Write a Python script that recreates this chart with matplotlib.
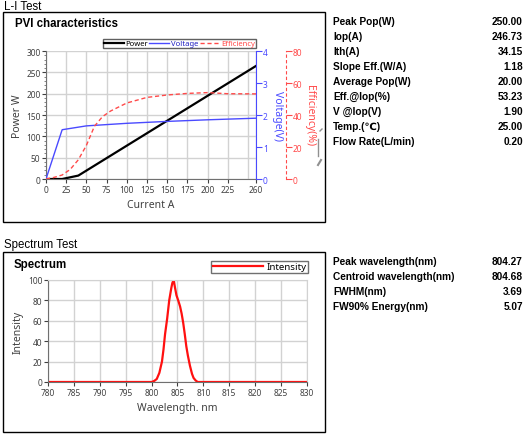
import matplotlib
matplotlib.use("Agg")
import matplotlib.pyplot as plt
from matplotlib.patches import Rectangle
from matplotlib.lines import Line2D

W, H = 526, 439

# --- L-I test data ---
current = [0, 20, 40, 260]
power = [0, 0, 8, 265]
volt_current = [0, 20, 50, 100, 150, 200, 260]
voltage = [0, 1.54, 1.66, 1.74, 1.80, 1.85, 1.90]
eff_current = [0, 10, 20, 30, 40, 50, 60, 70, 80, 100, 125, 150, 175, 200, 225, 260]
efficiency = [0, 1, 2.5, 6, 12, 21, 33, 39, 42.5, 47.5, 51, 52.5, 53.5, 54, 53.3, 53.2]

li_labels = ["Peak Pop(W)", "Iop(A)", "Ith(A)", "Slope Eff.(W/A)", "Average Pop(W)",
             "Eff.@Iop(%)", "V @Iop(V)", "Temp.(\u2103)", "Flow Rate(L/min)"]
li_values = ["250.00", "246.73", "34.15", "1.18", "20.00", "53.23", "1.90", "25.00", "0.20"]

# --- spectrum data ---
wavelength = [780, 800, 800.5, 801, 801.5, 802, 802.3, 802.6, 803.0, 803.4, 803.8, 804.0, 804.27,
              804.5, 804.8, 805.2, 805.5, 805.8, 806.1, 806.4, 806.7, 807.0, 807.4, 807.8,
              808.1, 808.5, 808.9, 830]
intensity = [0, 0, 1, 3, 9, 20, 32, 47, 62, 80, 92, 97, 100,
             93, 85, 79, 74, 67, 58, 47, 35, 26, 16, 8,
             4, 1.5, 0, 0]

sp_labels = ["Peak wavelength(nm)", "Centroid wavelength(nm)", "FWHM(nm)", "FW90% Energy(nm)"]
sp_values = ["804.27", "804.68", "3.69", "5.07"]


def fx(x):
    return x / W


def fy(y):
    return 1 - y / H


def ax_rect(x0, y0, x1, y1):
    return [fx(x0), fy(y1), (x1 - x0) / W, (y1 - y0) / H]


CHART_FONT = "Noto Sans"
TABLE_FONT = ["Liberation Sans", "DejaVu Sans", "Noto Sans CJK SC"]
GRID = "#d2d2d2"
TICK = "#404040"
BLUE = "#4a4aff"
RED = "#ff4a4a"

fig = plt.figure(figsize=(W / 100, H / 100), dpi=100)
fig.patch.set_facecolor("white")

# section headers and boxes
fig.text(fx(4), fy(7), "L-I Test", fontsize=8.3, family=TABLE_FONT, va="center", ha="left")
fig.text(fx(4), fy(245), "Spectrum Test", fontsize=8.3, family=TABLE_FONT, va="center", ha="left")
for (x0, y0, x1, y1) in [(3, 13, 325, 223), (3, 253, 325, 433)]:
    fig.add_artist(Rectangle((fx(x0), fy(y1)), (x1 - x0) / W, (y1 - y0) / H,
                             transform=fig.transFigure, fill=False, ec="black", lw=1))

fig.text(fx(15), fy(24), "PVI characteristics", fontsize=8.3, weight="bold",
         family=TABLE_FONT, va="center", ha="left")
fig.text(fx(14), fy(265), "Spectrum", fontsize=8.3, weight="bold",
         family=TABLE_FONT, va="center", ha="left")

# ---------- PVI chart ----------
ax = fig.add_axes(ax_rect(46, 52, 256, 180))
ax.plot(current, power, color="black", lw=1.6, label="Power", zorder=5)
ax.set_xlim(0, 260)
ax.set_ylim(0, 300)
ax.set_xticks([0, 25, 50, 75, 100, 125, 150, 175, 200, 225, 260])
ax.set_xticks([250], minor=True)
ax.set_yticks(range(0, 301, 50))
ax.set_yticks(range(0, 301, 10), minor=True)
ax.grid(True, which="major", color=GRID, lw=1)
ax.grid(True, which="minor", axis="x", color=GRID, lw=1)
for s in ["top", "right"]:
    ax.spines[s].set_visible(False)
for s in ["left", "bottom"]:
    ax.spines[s].set_color("#707070")
ax.tick_params(labelsize=6, colors=TICK, length=3, pad=1)
ax.tick_params(axis="x", which="minor", length=0)
ax.tick_params(axis="y", which="minor", length=1.5, color="#707070")
ax.set_xlabel("Current A", fontsize=7.5, color=TICK, family=CHART_FONT, labelpad=4)
ax.set_ylabel("Power W", fontsize=7.5, color=TICK, family=CHART_FONT, labelpad=2)
for lab in ax.get_xticklabels() + ax.get_yticklabels():
    lab.set_family(CHART_FONT)

axv = ax.twinx()
axv.plot(volt_current, voltage, color=BLUE, lw=1, label="Voltage")
axv.set_ylim(0, 4)
axv.set_yticks([0, 1, 2, 3, 4])
for s in ["top", "left", "bottom"]:
    axv.spines[s].set_visible(False)
axv.spines["right"].set_color(BLUE)
axv.tick_params(labelsize=6, colors=BLUE, length=4, pad=1)
axv.set_ylabel("Voltage(V)", fontsize=7.5, color=BLUE, family=CHART_FONT,
               rotation=-90, va="bottom", labelpad=3)
for lab in axv.get_yticklabels():
    lab.set_family(CHART_FONT)

axe = ax.twinx()
axe.plot(eff_current, efficiency, color=RED, lw=1, ls=(0, (3, 2)), label="Efficiency")
axe.set_ylim(0, 80)
axe.set_yticks([0, 20, 40, 60, 80])
axe.spines["right"].set_position(("axes", 1 + 30 / 210))
axe.spines["right"].set_color(RED)
axe.spines["right"].set_linestyle((0, (2, 3)))
for s in ["top", "left", "bottom"]:
    axe.spines[s].set_visible(False)
axe.tick_params(labelsize=6, colors=RED, length=4, pad=1)
axe.set_ylabel("Efficiency(%)", fontsize=7.5, color=RED, family=CHART_FONT,
               rotation=-90, va="bottom", labelpad=1)
for lab in axe.get_yticklabels():
    lab.set_family(CHART_FONT)

handles = [ax.lines[0], axv.lines[0], axe.lines[0]]
leg = axe.legend(handles, ["Power", "Voltage", "Efficiency"], ncol=3, loc="lower right",
                 bbox_to_anchor=(1.0, 1.02), fontsize=5.5, frameon=True, fancybox=False,
                 edgecolor="#606060", framealpha=1, handlelength=2.6, handletextpad=0.2,
                 columnspacing=0.2, borderpad=0.15, borderaxespad=0)
for t, c in zip(leg.get_texts(), ["black", "#2020c0", RED]):
    t.set_color(c)
    t.set_family(CHART_FONT)

# small grey scroll mark at the box edge
fig.add_artist(Line2D([fx(318), fx(318)], [fy(140), fy(157)], transform=fig.transFigure,
                      color="#909090", lw=1))
fig.add_artist(Line2D([fx(320), fx(322)], [fy(132), fy(130)], transform=fig.transFigure,
                      color="#909090", lw=1))
fig.add_artist(Line2D([fx(318), fx(321)], [fy(166), fy(161)], transform=fig.transFigure,
                      color="#909090", lw=1.5))

# L-I table
for i, (lab, val) in enumerate(zip(li_labels, li_values)):
    y = 22 + 15 * i
    fig.text(fx(333), fy(y), lab, fontsize=7.3, weight="bold", family=TABLE_FONT,
             va="center", ha="left")
    fig.text(fx(523), fy(y), val, fontsize=7.3, weight="bold", family=TABLE_FONT,
             va="center", ha="right")

# ---------- spectrum chart ----------
axs = fig.add_axes(ax_rect(48, 281, 307, 383))
axs.plot(wavelength, intensity, color="#ff1010", lw=1.6, label="Intensity")
axs.set_xlim(780, 830)
axs.set_ylim(0, 100)
axs.set_xticks(range(780, 831, 5))
axs.set_yticks(range(0, 101, 20))
axs.grid(True, color=GRID, lw=1)
for s in ["top", "right"]:
    axs.spines[s].set_color(GRID)
for s in ["left", "bottom"]:
    axs.spines[s].set_color("#707070")
axs.tick_params(labelsize=6, colors=TICK, length=3, pad=1)
axs.set_xlabel("Wavelength. nm", fontsize=7.5, color=TICK, family=CHART_FONT, labelpad=4)
axs.set_ylabel("Intensity", fontsize=7.5, color=TICK, family=CHART_FONT, labelpad=3)
for lab in axs.get_xticklabels() + axs.get_yticklabels():
    lab.set_family(CHART_FONT)
lg = axs.legend(loc="lower right", bbox_to_anchor=(1.003, 1.07), fontsize=7, fancybox=False,
                edgecolor="#707070", framealpha=1, handlelength=5.2, handletextpad=0.3,
                borderpad=0.15, borderaxespad=0)
for t in lg.get_texts():
    t.set_family(CHART_FONT)

# spectrum table
for i, (lab, val) in enumerate(zip(sp_labels, sp_values)):
    y = 262 + 15 * i
    fig.text(fx(333), fy(y), lab, fontsize=7.3, weight="bold", family=TABLE_FONT,
             va="center", ha="left")
    fig.text(fx(523), fy(y), val, fontsize=7.3, weight="bold", family=TABLE_FONT,
             va="center", ha="right")

fig.savefig("out.png", dpi=100)
